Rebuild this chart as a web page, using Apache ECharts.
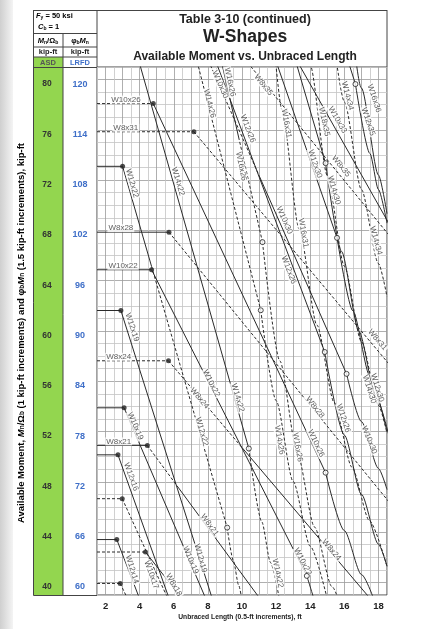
<!DOCTYPE html>
<html><head><meta charset="utf-8">
<script src="https://cdn.jsdelivr.net/npm/echarts@6/dist/echarts.min.js"></script>
<style>html,body{margin:0;padding:0;background:#fff}#c{width:422px;height:629px}</style>
</head><body><div id="c"></div>
<script>
// ---------------- data ----------------
const shapes = ['W10x15','W8x18','W12x14','W10x17','W12x16','W8x21','W10x19','W8x24','W12x19','W10x22','W8x28','W12x22','W8x31','W10x26','W14x22','W14x26','W10x30','W16x26','W12x26','W8x35','W16x31','W18x35','W10x33','W14x30','W12x30','W14x34','W12x35','W16x36'];
// plastic moment Mp/Ωb (ASD, kip-ft) and Lp (ft)
const mpASD = [39.92,42.42,43.41,46.66,50.15,50.9,53.89,57.63,61.63,64.87,67.86,73.1,75.85,78.09,82.83,100.3,91.32,110.3,92.81,86.58,134.7,165.9,96.81,118.0,107.5,136.2,127.7,159.7];
const lpFt  = [2.86,4.34,2.66,2.98,2.73,4.45,3.09,5.69,2.90,4.70,5.72,3.00,7.18,4.80,3.67,3.81,4.84,3.96,5.33,7.17,4.13,4.31,6.85,5.26,5.37,5.40,5.44,5.37];
// limiting moment Mr/Ωb (ASD, kip-ft) and Lr (ft)
const mrASD = [24.1,26.55,26.02,28.29,29.87,31.79,32.83,36.5,37.2,40.52,42.44,44.36,48.03,48.73,50.65,61.65,56.59,67.07,58.33,54.49,82.43,100.6,61.13,73.35,67.41,84.88,79.64,98.68];
const lrFt  = [8.46,13.49,7.6,9.16,8.05,14.8,9.73,18.9,8.61,13.8,21.0,9.13,24.4,14.9,10.4,11.1,16.13,11.2,14.85,26.55,11.9,12.35,21.7,14.9,15.57,15.2,16.65,14.9];
// elastic portions beyond Lr: [ft, ASD kip-ft]
const elasticTail = {
  W10x22: [[14.5,37.45]],
  W12x22: [[9.5,41.7],[9.8,39.8],[10,38.6]],
  W14x22: [[11.16,44.82],[11.67,41.59],[12.18,38.76]],
  W10x26: [[16,44.12],[17,40.63],[18,37.65]],
  W14x26: [[12,54.46],[13,48.03],[14,42.88],[15,38.68]],
  W10x30: [[17,52.79],[18,49.07],[18.5,47.39]],
  W16x26: [[12.22,57.62],[13.24,50.27],[14.25,44.41],[15.27,39.67],[16.29,35.76]],
  W12x26: [[16,51.72],[17,47.01],[18,43.04],[18.5,41.28]],
  W16x31: [[12.33,77.63],[13.36,68.09],[14.39,60.48],[15.41,54.29],[16.44,49.18],[17.47,44.91],[18.5,41.28]],
  W18x35: [[13,91.92],[14,81.13],[15,72.37],[16,65.16],[17,59.15],[18,54.09],[18.5,51.86]],
  W14x30: [[15.83,66.34],[16.85,59.98],[17.87,54.66],[18.89,50.13]],
  W12x30: [[16.5,61.6],[17.5,56.4],[18.5,51.99]],
  W14x34: [[16,78.24],[17,71.26],[18,65.36],[18.5,62.74]],
  W12x35: [[17.5,74.11],[18,71.25],[18.5,68.58]],
  W16x36: [[16,87.57],[17,79.33],[18,72.4],[18.5,69.33]]
};
// points on the sloped part where the line changes between solid and dashed
const styleBreaks = {W8x21:[6.2,47.67], W8x24:[10,50.73], W12x22:[4.7,65.13], W16x26:[9.8,75.43], W10x30:[11,72.37]};
const asdTicks = [40,44,48,52,56,60,64,68,72,76,80];
const lrfdTicks = [60,66,72,78,84,90,96,102,108,114,120];
const xTicks = [2,4,6,8,10,12,14,16,18];

// ---------------- styles / annotation placement ----------------
const lineDash = {
 W10x15:{flat:'d',slope:['d']}, W8x18:{flat:'d',slope:['s']}, W12x14:{flat:'s',slope:['s']},
 W10x17:{flat:'d',slope:['d']}, W12x16:{flat:'s',slope:['s']}, W8x21:{flat:'s',slope:['d','s']},
 W10x19:{flat:'s',slope:['s']}, W8x24:{flat:'d',slope:['d','s']}, W12x19:{flat:'s',slope:['s']},
 W10x22:{flat:'s',slope:['s'],tail:'s'}, W8x28:{flat:'s',slope:['d']}, W12x22:{flat:'s',slope:['s','d'],tail:'d'},
 W8x31:{flat:'d',slope:['d']}, W10x26:{flat:'d',slope:['s'],tail:'s'}, W14x22:{slope:['s'],tail:'d'},
 W14x26:{slope:['d'],tail:'d'}, W10x30:{slope:['d','s'],tail:'s'}, W16x26:{slope:['s','d'],tail:'d'},
 W12x26:{slope:['s'],tail:'s'}, W8x35:{slope:['d']}, W16x31:{slope:['d'],tail:'d'},
 W18x35:{slope:['d'],tail:'d'}, W10x33:{slope:['s']}, W14x30:{slope:['s'],tail:'s'},
 W12x30:{slope:['s'],tail:'s'}, W14x34:{slope:['d'],tail:'d'}, W12x35:{slope:['s'],tail:'s'},
 W16x36:{slope:['s'],tail:'s'}
};
const flatLabelX = {W10x26:2.25, W8x31:2.37, W8x28:2.08, W10x22:2.08, W8x24:1.95, W8x21:1.95};
const labelSpots = [
 ['W12x22',3.56,71.75,-74],['W14x22',6.25,71.9,-74],['W10x30',8.72,79.6,-66],['W14x26',8.1,78.1,-76],
 ['W16x26',9.3,79.8,-78],['W12x26',10.34,76.1,-69],['W16x26',9.95,73.1,-78],['W8x35',11.26,79.57,-51],
 ['W16x31',12.6,76.5,-80],['W10x33',15.6,76.8,-60],['W18x35',14.82,76.65,-78],['W14x34',16.19,78.7,-75],
 ['W16x36',17.75,78.5,-72],['W12x35',17.4,76.65,-72],['W12x30',14.28,73.3,-71],['W8x35',15.8,73.1,-51],
 ['W14x30',15.4,71.2,-74],['W10x30',12.49,68.8,-66],['W16x31',13.6,67.8,-80],['W12x26',12.74,64.85,-69],
 ['W14x34',17.85,67.2,-75],['W8x31',17.94,59.3,-50],['W12x19',3.56,60.3,-72],['W10x22',8.2,55.84,-63],
 ['W14x22',9.75,54.7,-74],['W8x24',7.51,54.65,-50],['W12x22',7.65,52.0,-74],['W10x19',3.75,52.44,-67],
 ['W12x16',3.5,48.4,-70],['W12x30',17.94,55.5,-73],['W14x30',17.46,55.36,-72],['W8x28',14.28,53.93,-51],
 ['W12x26',15.95,53.05,-72],['W10x30',17.46,51.33,-68],['W14x26',12.19,51.33,-80],['W16x26',13.26,50.75,-80],
 ['W10x26',14.34,51.07,-65],['W8x21',8.1,44.57,-54],['W12x19',7.57,41.92,-74],['W10x19',6.99,41.78,-67],
 ['W12x14',3.56,41.04,-73],['W10x17',4.69,40.6,-70],['W8x18',6.0,39.8,-60],['W8x24',15.25,42.58,-50],
 ['W10x22',13.56,41.65,-63],['W14x22',12.1,40.73,-78]
];

const X_MIN=1.5, X_MAX=18.5, Y_MIN=39, Y_MAX=81;
const FONT = "'Liberation Sans', Arial, sans-serif";
const DASH = [3,2];
const LINE = '#2a2a2a';

function lineSeries(points, dashed, smooth){
  return {type:'line', data:points, symbol:'none', clip:true, silent:true, animation:false,
    smooth: smooth?0.25:false, smoothMonotone:'x', z:3,
    lineStyle:{color:LINE, width:1, type: dashed?DASH:'solid'}};
}
const series=[];
shapes.forEach((n,i)=>{
  const st=lineDash[n]; const mp=mpASD[i], lp=lpFt[i], mr=mrASD[i], lr=lrFt[i];
  if (mp<=Y_MAX) series.push(lineSeries([[X_MIN,mp],[lp,mp]], st.flat==='d'));
  const b=styleBreaks[n];
  if (b){ series.push(lineSeries([[lp,mp],b], st.slope[0]==='d')); series.push(lineSeries([b,[lr,mr]], st.slope[1]==='d')); }
  else series.push(lineSeries([[lp,mp],[lr,mr]], st.slope[0]==='d'));
  const t=elasticTail[n];
  if (t && t.length) series.push(lineSeries([[lr,mr]].concat(t), st.tail==='d', true));
});
// flat labels
series.push({type:'scatter', symbolSize:1, itemStyle:{color:'rgba(0,0,0,0)'}, silent:true, animation:false, z:6,
  data: Object.keys(flatLabelX).map(n=>({name:n, value:[flatLabelX[n], mpASD[shapes.indexOf(n)]]})),
  label:{show:true, position:'right', distance:0, offset:[0,-4], formatter:'{b}', fontSize:8, fontFamily:FONT, color:'#333', backgroundColor:'#fff', padding:[0,1]}});
// curve labels
series.push({type:'scatter', symbolSize:1, itemStyle:{color:'rgba(0,0,0,0)'}, silent:true, animation:false, z:6,
  data: labelSpots.map(([n,x,y,a])=>({name:n, value:[x,y], label:{rotate:a}})),
  label:{show:true, position:'inside', formatter:'{b}', fontSize:8, fontFamily:FONT, color:'#333', backgroundColor:'#fff', padding:[0,1]}});
// Lp dots
series.push({type:'scatter', symbolSize:5, silent:true, animation:false, z:7, itemStyle:{color:'#222'},
  data: shapes.map((n,i)=>[lpFt[i],mpASD[i]]).filter(p=>p[1]>=Y_MIN&&p[1]<=Y_MAX&&p[0]<=X_MAX)});
// Lr open circles
series.push({type:'scatter', symbolSize:5, silent:true, animation:false, z:7, itemStyle:{color:'#fff', borderColor:'#222', borderWidth:1},
  data: shapes.map((n,i)=>[lrFt[i],mrASD[i]]).filter(p=>p[1]>=Y_MIN&&p[1]<=Y_MAX&&p[0]<=X_MAX)});

const near=(v,list)=>list.some(t=>Math.abs(t-v)<1e-6);
const rich = {
  a:{fontSize:7.5, fontWeight:'bold', fontFamily:FONT, color:'#222'},
  i:{fontSize:7.5, fontWeight:'bold', fontStyle:'italic', fontFamily:FONT, color:'#222'},
  s:{fontSize:5, fontWeight:'bold', fontFamily:FONT, color:'#222', verticalAlign:'bottom', padding:[3,0,0,0]}
};
const vrich = {
  t:{fontSize:9.5, fontWeight:'bold', fontFamily:FONT, color:'#222'},
  it:{fontSize:9.5, fontWeight:'bold', fontStyle:'italic', fontFamily:FONT, color:'#222'},
  s:{fontSize:6.5, fontWeight:'bold', fontFamily:FONT, color:'#222', verticalAlign:'bottom', padding:[3,0,0,0]}
};
function ln(x1,y1,x2,y2,w){return {type:'line', z:50, silent:true, shape:{x1,y1,x2,y2}, style:{stroke:'#444', lineWidth:w||1}};}
function tx(x,y,text,font,color,extra){return Object.assign({type:'text', x, y, z:60, silent:true, style:{text, font, fill:color||'#222', align:'center', verticalAlign:'middle'}}, extra||{});}

const graphic = [
  {type:'rect', z:-5, silent:true, shape:{x:0,y:0,width:13,height:629}, style:{fill:new echarts.graphic.LinearGradient(0,0,1,0,[{offset:0,color:'#cfcfcf'},{offset:1,color:'#f4f4f4'}])}},
  {type:'rect', z:-5, silent:true, shape:{x:33.5,y:57,width:29.5,height:538}, style:{fill:'#93d64f'}},
  ln(33.5,10.5,387,10.5), ln(33.5,10,33.5,595.5), ln(97,10,97,67), ln(387,10,387,67),
  ln(33.5,33.5,97,33.5), ln(33.5,47,97,47), ln(33.5,57,97,57), ln(33.5,67.5,97,67.5),
  ln(63,33.5,63,595.5), ln(33.5,595.5,97,595.5),
  {type:'text', x:36, y:16, z:60, silent:true, style:{text:'{i|F}{s|y}{a| = 50 ksi}', rich, align:'left', verticalAlign:'middle'}},
  {type:'text', x:38, y:27, z:60, silent:true, style:{text:'{i|C}{s|b}{a| = 1}', rich, align:'left', verticalAlign:'middle'}},
  {type:'text', x:48, y:41, z:60, silent:true, style:{text:'{i|M}{s|n}{a|/Ω}{s|b}', rich, align:'center', verticalAlign:'middle'}},
  {type:'text', x:80, y:41, z:60, silent:true, style:{text:'{a|φ}{s|b}{i|M}{s|n}', rich, align:'center', verticalAlign:'middle'}},
  tx(48,52,'kip-ft','bold 7.5px '+FONT,'#222'), tx(80,52,'kip-ft','bold 7.5px '+FONT,'#222'),
  tx(48,62.5,'ASD','bold 7.5px '+FONT,'#555'), tx(80,62.5,'LRFD','bold 7.5px '+FONT,'#3f6fc8'),
  tx(245,20,'Table 3-10 (continued)','bold 12.5px '+FONT,'#222'),
  tx(245,37,'W-Shapes','bold 17.5px '+FONT,'#222'),
  tx(245,57,'Available Moment vs. Unbraced Length','bold 12px '+FONT,'#222'),
  tx(240,617,'Unbraced Length (0.5-ft increments), ft','bold 8px '+FONT,'#222',{scaleX:0.84}),
  {type:'text', x:21, y:333, z:60, rotation:Math.PI/2, scaleX:1, silent:true,
   style:{text:'{t|Available Moment, }{it|M}{s|n}{t|/Ω}{s|b}{t| (1 kip-ft increments) and φ}{s|b}{it|M}{s|n}{t| (1.5 kip-ft increments), kip-ft}', rich:vrich, align:'center', verticalAlign:'middle'}}
];

const chart = echarts.init(document.getElementById('c'), null, {renderer:'canvas'});
chart.setOption({
  animation:false,
  backgroundColor:'#fff',
  grid:{left:97, top:67, width:290, height:528, show:true, borderColor:'#444', borderWidth:1, backgroundColor:'transparent', containLabel:false},
  xAxis:{type:'value', min:X_MIN, max:X_MAX, interval:0.5,
    axisLine:{show:false}, axisTick:{show:false},
    axisLabel:{formatter:v=>near(v,xTicks)?String(Math.round(v)):'', margin:6, fontSize:9.5, fontWeight:'bold', fontFamily:FONT, color:'#222', showMinLabel:true, showMaxLabel:true},
    splitLine:{show:true, lineStyle:{color:['#c4c4c4','#9a9a9a'], width:0.8}}},
  yAxis:[
    {type:'value', min:Y_MIN, max:Y_MAX, interval:1, position:'left',
     axisLine:{show:false}, axisTick:{show:false},
     axisLabel:{formatter:v=>near(v,asdTicks)?String(Math.round(v)):'', align:'center', verticalAlign:'top', margin:50, fontSize:8.5, fontWeight:'bold', fontFamily:FONT, color:'#333'},
     splitLine:{show:true, lineStyle:{color:['#c4c4c4','#9a9a9a','#c4c4c4','#c4c4c4'], width:0.8}}},
    {type:'value', min:Y_MIN*1.5, max:Y_MAX*1.5, interval:1.5, position:'left',
     axisLine:{show:false}, axisTick:{show:false}, splitLine:{show:false},
     axisLabel:{formatter:v=>near(v,lrfdTicks)?String(Math.round(v)):'', align:'center', verticalAlign:'top', margin:17, fontSize:9, fontWeight:'bold', fontFamily:FONT, color:'#3f6fc8'}}
  ],
  series,
  graphic
});
</script></body></html>
